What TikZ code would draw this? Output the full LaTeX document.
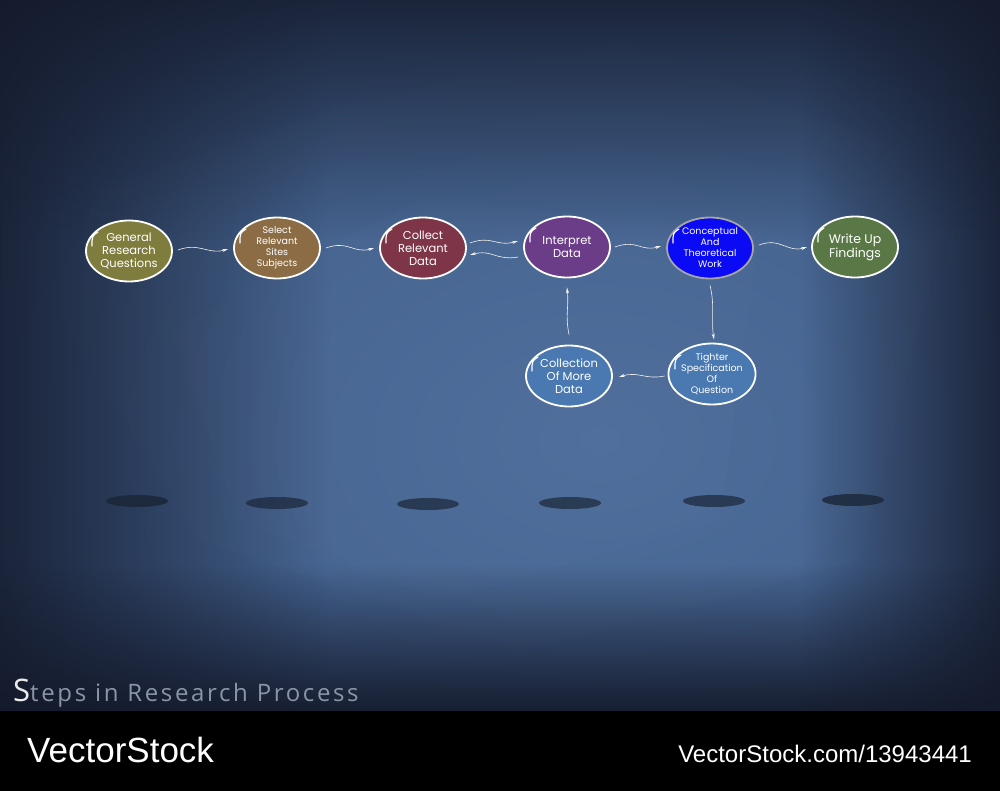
\documentclass[tikz,border=0pt]{standalone}
\usepackage{fontspec}
\setmainfont{Poppins}
\newfontfamily\titlefont[LetterSpace=11]{Open Sans}
\newfontfamily\markfont{Liberation Sans}
\usetikzlibrary{shapes.geometric,arrows.meta,fadings}
\definecolor{bgdark}{HTML}{141A2B}
\definecolor{bgbase}{HTML}{3E5B87}
\definecolor{bglight}{HTML}{4C6C9A}
\definecolor{cOlive}{HTML}{7F7D3D}
\definecolor{cBrown}{HTML}{8B6C45}
\definecolor{cMaroon}{HTML}{7D3547}
\definecolor{cPurple}{HTML}{6B3C87}
\definecolor{cBlue}{HTML}{0A0AF5}
\definecolor{cGreen}{HTML}{5A7845}
\definecolor{cSteel}{HTML}{4A78B0}
\definecolor{shadowc}{HTML}{1B2638}
\definecolor{titlegray}{HTML}{8A96A8}
\tikzset{
  stepnode/.style={ellipse, draw=white, line width=1.8pt, minimum width=86pt, minimum height=61pt,
     inner sep=0pt, text=white, align=center, font=\fontsize{11.5}{13}\selectfont},
  smalltxt/.style={font=\fontsize{9.5}{11}\selectfont},
  bigtxt/.style={font=\fontsize{12.5}{14}\selectfont},
  arr/.style={draw=white!90!gray, line width=0.6pt, -{Stealth[length=6pt,width=3pt]}},
  hookst/.style={draw=white, line width=1.2pt, line cap=round},
  shadowst/.style={fill=shadowc, opacity=0.7}
}
\newcommand\hookmark[1]{\draw[hookst] ([shift={(-31,-19)}]#1.center) .. controls ([shift={(-37,-15)}]#1.center) .. ([shift={(-37,-5)}]#1.center);}
\begin{document}
\begin{tikzpicture}[x=1pt,y=-1pt]
\useasboundingbox (0,0) rectangle (1000,791);
% background
\fill[bgbase] (-2,-2) rectangle (1002,712);
\begin{scope}
\clip (0,0) rectangle (1000,711);
\shade[inner color=bglight, outer color=bgbase] (600,440) ellipse [x radius=700, y radius=480];
% faint chalk shapes
\fill[white, opacity=0.015] (100,190) -- (330,110) -- (620,40) -- (900,150) -- (945,230) -- (860,560) -- (520,650) -- (200,540) -- (50,300) -- cycle;
\fill[white, opacity=0.012] (170,330) -- (420,200) -- (760,230) -- (720,520) -- (440,600) -- (240,520) -- cycle;
% vignette bands
\fill[bgdark, path fading=east, opacity=0.85] (-5,-5) rectangle (330,715);
\fill[bgdark, path fading=west, opacity=0.85] (800,-5) rectangle (1005,715);
\fill[bgdark, path fading=south, opacity=0.85] (-5,-5) rectangle (1005,240);
\fill[bgdark, path fading=north, opacity=0.95] (-5,565) rectangle (1005,712);
\end{scope}
\fill[black] (-2,711) rectangle (1002,793);
% shadows
\fill[shadowst, opacity=0.85] (137,501) ellipse [x radius=31, y radius=6];
\fill[shadowst] (277,503) ellipse [x radius=31, y radius=6];
\fill[shadowst] (428,504) ellipse [x radius=31, y radius=6];
\fill[shadowst] (570,503) ellipse [x radius=31, y radius=6];
\fill[shadowst] (714,501) ellipse [x radius=31, y radius=6];
\fill[shadowst, opacity=0.8] (853,500) ellipse [x radius=31, y radius=6];
% nodes
\node[stepnode, fill=cOlive] (n1) at (129,251) {General\\Research\\Questions};
\node[stepnode, fill=cBrown, smalltxt] (n2) at (277,248) {Select\\Relevant\\Sites\\Subjects};
\node[stepnode, fill=cMaroon] (n3) at (423,248) {Collect\\Relevant\\Data};
\node[stepnode, fill=cPurple] (n4) at (567,247) {Interpret\\Data};
\node[stepnode, fill=cBlue, draw=gray!70!white, smalltxt] (n5) at (710,248) {Conceptual\\And\\Theoretical\\Work};
\node[stepnode, fill=cGreen, bigtxt] (n6) at (855,247) {Write Up\\Findings};
\node[stepnode, fill=cSteel] (n7) at (569,376) {Collection\\Of More\\Data};
\node[stepnode, fill=cSteel, smalltxt] (n8) at (712,374) {Tighter\\Specification\\Of\\Question};
\foreach \n in {n1,n2,n3,n4,n5,n6,n7,n8} {\hookmark{\n}}
% connectors
\draw[arr] ([xshift=5,yshift=1]n1.east) .. controls +(22,-8) and +(-20,6) .. ([xshift=-5,yshift=-1]n2.west);
\draw[arr] ([xshift=5]n2.east) .. controls +(22,-8) and +(-20,6) .. ([xshift=-5]n3.west);
\draw[arr] ([xshift=3,yshift=5]n3.east) .. controls +(22,-8) and +(-22,6) .. ([xshift=-5,yshift=6]n4.west);
\draw[arr] ([xshift=-5,yshift=-10]n4.west) .. controls +(-22,4) and +(22,-6) .. ([xshift=3,yshift=-7]n3.east);
\draw[arr] ([xshift=4]n4.east) .. controls +(22,-8) and +(-20,6) .. ([xshift=-5,yshift=2]n5.west);
\draw[arr] ([xshift=5,yshift=3]n5.east) .. controls +(22,-8) and +(-20,6) .. ([xshift=-4]n6.west);
\draw[arr] ([yshift=-6]n5.south) .. controls +(5,20) and +(-3,-20) .. ([xshift=2,yshift=3]n8.north);
\draw[arr] ([xshift=-3,yshift=-2]n8.west) .. controls +(-20,4) and +(20,-6) .. ([xshift=6,yshift=-1]n7.east);
\draw[arr] ([yshift=10]n7.north) .. controls +(-4,-20) and +(2,20) .. ([yshift=-9]n4.south);
% title
\node[anchor=base west, inner sep=0pt, text=titlegray] (title) at (13,701) {\titlefont{\fontsize{31}{31}\selectfont\color{white!85!gray}S}{\fontsize{24}{26}\selectfont teps in Research Process}};
% footer
\node[anchor=base west, inner sep=0pt, text=white] (brand) at (27,762) {\markfont\fontsize{35}{36}\selectfont VectorStock};
\node[anchor=base east, inner sep=0pt, text=white] (url) at (972,762) {\markfont\fontsize{24}{26}\selectfont VectorStock.com/13943441};
\end{tikzpicture}
\end{document}
